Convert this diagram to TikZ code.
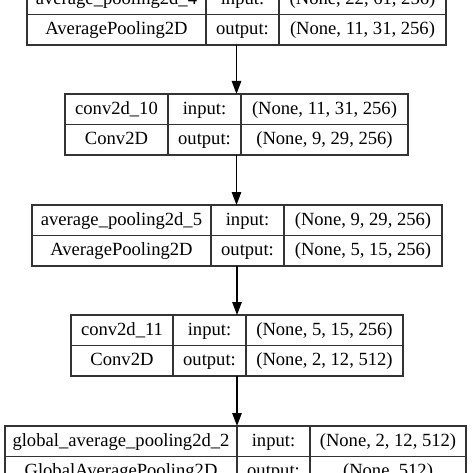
\documentclass[tikz,border=0pt]{standalone}
\usepackage{fontspec}
\setmainfont{Liberation Serif}
\usetikzlibrary{positioning,arrows.meta,fit}
\definecolor{ink}{HTML}{000000}
\definecolor{rule}{HTML}{333333}
\tikzset{
  cell/.style={draw=rule, line width=1.2pt, rectangle, inner sep=0pt, outer sep=0pt,
               minimum height=30.5pt, text height=14pt, text depth=4pt,
               font=\fontsize{18.6}{22}\selectfont, text=ink},
  lyr/.style={inner sep=0pt, outer sep=0pt},
  flow/.style={-{Triangle[length=13pt,width=9.5pt]}, line width=1.2pt, draw=ink},
}
% ---- one keras layer: #1 id, #2 top left, #3 name width, #4 shape width,
% ---- #5 name, #6 class, #7 input shape, #8 output shape
\newcommand{\layer}[8]{
  \node[cell, minimum width=#3pt, anchor=north west] (#1n) at #2 {#5};
  \node[cell, minimum width=73pt, right=0pt of #1n] (#1i) {input:};
  \node[cell, minimum width=#4pt, right=0pt of #1i] (#1s) {#7};
  \node[cell, minimum width=#3pt, below=0pt of #1n] (#1c) {#6};
  \node[cell, minimum width=73pt, below=0pt of #1i] (#1o) {output:};
  \node[cell, minimum width=#4pt, below=0pt of #1s] (#1t) {#8};
  \node[lyr, fit=(#1n)(#1t)] (#1) {};
}

\begin{document}
\begin{tikzpicture}[x=1pt, y=-1pt]
  \useasboundingbox (0,0) rectangle (473,473);
  \clip (0,0) rectangle (473,473);
  % ---- layers ----
  \layer{apool4}{(27,-16)}{179}{167}{average\_pooling2d\_4}{AveragePooling2D}{(None, 22, 61, 256)}{(None, 11, 31, 256)}
  \layer{conv10}{(65,94)}{103}{167}{conv2d\_10}{Conv2D}{(None, 11, 31, 256)}{(None, 9, 29, 256)}
  \layer{apool5}{(32,205)}{179}{158}{average\_pooling2d\_5}{AveragePooling2D}{(None, 9, 29, 256)}{(None, 5, 15, 256)}
  \layer{conv11}{(71,315)}{102}{157}{conv2d\_11}{Conv2D}{(None, 5, 15, 256)}{(None, 2, 12, 512)}
  \layer{gpool2}{(5,426)}{232}{156}{global\_average\_pooling2d\_2}{GlobalAveragePooling2D}{(None, 2, 12, 512)}{(None, 512)}
  % ---- flow ----
  \foreach \a/\b in {apool4/conv10, conv10/apool5, apool5/conv11, conv11/gpool2}
    \draw[flow] (\a.south) -- (\a.south |- \b.north);
\end{tikzpicture}
\end{document}
